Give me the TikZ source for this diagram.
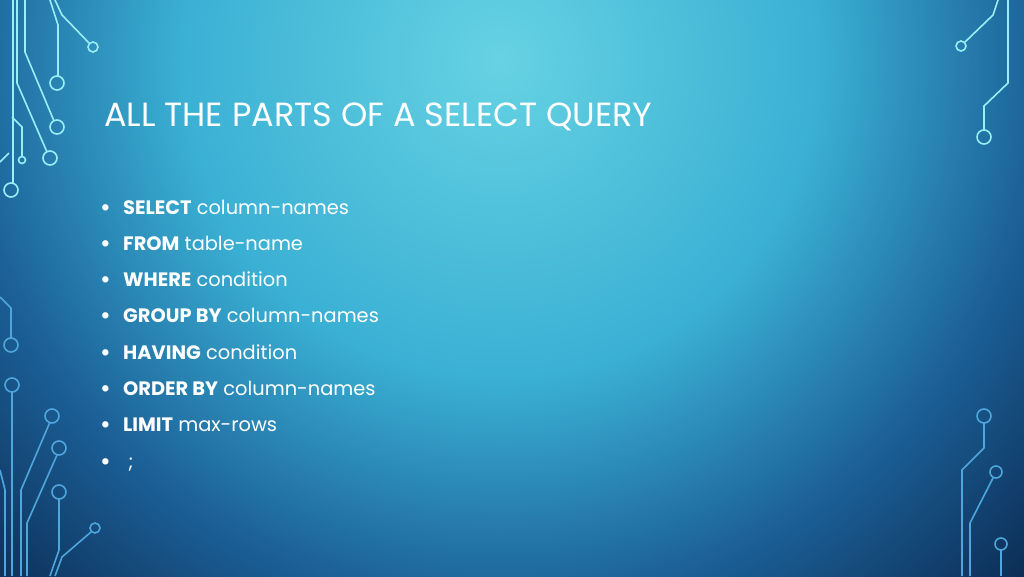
\documentclass[tikz,border=0pt]{standalone}
\usepackage{fontspec}
\setmainfont{Poppins}
\usetikzlibrary{positioning}
\definecolor{bgA}{HTML}{66D2E3}
\definecolor{bgB}{HTML}{3AB0D4}
\definecolor{bgC}{HTML}{1B5F96}
\definecolor{bgD}{HTML}{0C2D55}
\definecolor{bgE}{HTML}{08203F}
\definecolor{traceTop}{HTML}{9AEEF8}
\definecolor{traceLow}{HTML}{4FA6DC}
\pgfdeclareradialshading{slidebg}{\pgfpoint{0bp}{0bp}}{color(0bp)=(bgA); color(10bp)=(bgB); color(17bp)=(bgC); color(23bp)=(bgD); color(27bp)=(bgE); color(50bp)=(bgE)}
\tikzset{
    traceT/.style={draw=traceTop, line width=1.6pt},
    traceL/.style={draw=traceLow, line width=1.6pt},
    titletext/.style={anchor=base west, inner sep=0pt, text=white, font=\fontsize{33.5}{33.5}\selectfont},
    itemtext/.style={anchor=base west, inner sep=0pt, text=white, font=\fontsize{19.4}{19.4}\selectfont},
    dottext/.style={anchor=base west, inner sep=0pt, text=white, font=\fontsize{26}{26}\selectfont}
}
\begin{document}
\begin{tikzpicture}[x=1pt, y=-1pt]
    \useasboundingbox (0,0) rectangle (1024,576);
    \clip (0,0) rectangle (1024,576);
    \shade[shading=slidebg] (500,60) circle (800);
    % left top traces
    \draw[traceT] (13,0) -- (13,183);
    \draw[traceT] (11,190) circle (7);
    \draw[traceT] (17,0) -- (17,83) -- (47,152);
    \draw[traceT] (50,158) circle (7);
    \draw[traceT] (25,0) -- (25,52) -- (54,121);
    \draw[traceT] (57,127) circle (7);
    \draw[traceT] (50,0) -- (58,25) -- (58,76);
    \draw[traceT] (57,83) circle (7);
    \draw[traceT] (55,0) -- (62,15) -- (89,43);
    \draw[traceT] (93,47) circle (5);
    \draw[traceT] (12,117) -- (22,127) -- (22,156);
    \draw[traceT] (22,160) circle (3.5);
    \draw[traceT] (0,162) -- (9,153);
    % right top traces
    \draw[traceT] (998,0) -- (993,15) -- (965,42);
    \draw[traceT] (961,46) circle (5);
    \draw[traceT] (1008,0) -- (1008,83) -- (984,106) -- (984,130);
    \draw[traceT] (984,137) circle (7);
    % left bottom traces
    \draw[traceL] (0,297) -- (11,308) -- (11,338);
    \draw[traceL] (11,345) circle (7);
    \draw[traceL] (12,392) -- (12,576);
    \draw[traceL] (12,385) circle (7);
    \draw[traceL] (50,422) -- (21,490) -- (21,576);
    \draw[traceL] (52,416) circle (7);
    \draw[traceL] (57,455) -- (27,523) -- (27,576);
    \draw[traceL] (59,448) circle (7);
    \draw[traceL] (59,499) -- (59,550) -- (50,576);
    \draw[traceL] (59,492) circle (7);
    \draw[traceL] (91,532) -- (62,557) -- (55,576);
    \draw[traceL] (95,528) circle (5);
    \draw[traceL] (0,470) -- (5,490) -- (5,576);
    % right bottom traces
    \draw[traceL] (984,423) -- (984,448) -- (962,470) -- (962,576);
    \draw[traceL] (984,416) circle (7);
    \draw[traceL] (993,478) -- (970,523) -- (970,576);
    \draw[traceL] (996,472) circle (6);
    \draw[traceL] (1001,550) -- (1001,576);
    \draw[traceL] (1001,544) circle (6);
    % title and items
    \node[titletext] (title) at (104,126) {ALL THE PARTS OF A SELECT QUERY};
    \foreach \key/\rest [count=\i] in {SELECT/column-names, FROM/table-name, WHERE/condition, GROUP BY/column-names, HAVING/condition, ORDER BY/column-names, LIMIT/max-rows, /{;}} {
        \node[dottext] (dot\i) at (100,{216+(\i-1)*36.3}) {•};
        \node[itemtext] (item\i) at (123,{214+(\i-1)*36.3}) {\textbf{\key} \rest};
    }
\end{tikzpicture}
\end{document}
